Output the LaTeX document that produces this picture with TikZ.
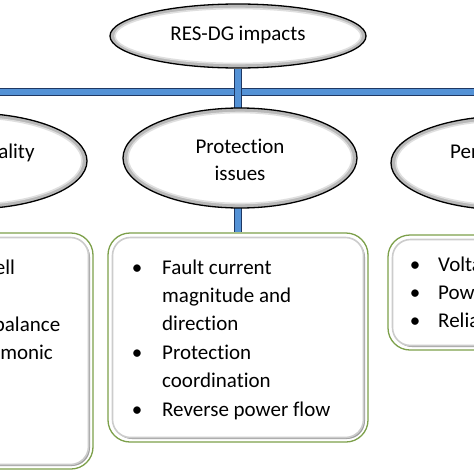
\documentclass[tikz,border=0pt]{standalone}
\usepackage{fontspec}
\setmainfont{Carlito}[Ligatures=CommonOff]
\usetikzlibrary{shapes.geometric}
\definecolor{busfill}{RGB}{84,146,214}
\definecolor{busline}{RGB}{31,56,99}
\definecolor{boxgreen}{RGB}{125,160,75}
\begin{document}
\begin{tikzpicture}[x=1pt,y=-1pt,
  ellO/.style={ellipse, draw=black, line width=1.3pt, fill=gray!55, inner sep=0pt},
  ellI/.style={ellipse, fill=white, draw=gray!25, line width=1.6pt, inner sep=0pt},
  lbl/.style={font=\fontsize{21}{28}\selectfont, inner sep=0pt, anchor=base},
  lblw/.style={lbl, anchor=base west},
  boxO/.style={rectangle, rounded corners=22pt, draw=boxgreen, line width=1.3pt, fill=white, inner sep=0pt},
  boxS/.style={rectangle, rounded corners=18pt, fill=gray!75, inner sep=0pt},
  boxI/.style={rectangle, rounded corners=18pt, draw=gray!40, line width=1.6pt, fill=white, inner sep=0pt},
  bus/.style={draw=busline, line width=1.2pt, double=busfill, double distance=5.5pt}
]
\useasboundingbox (0,0) rectangle (474,474);
\clip (0,0) rectangle (474,474);
\fill[white] (0,0) rectangle (474,474);

% boxes
\node[boxO, minimum width=260pt, minimum height=209pt] (midbox) at (238,337.5) {};
\node[boxS, minimum width=251pt, minimum height=200pt] (midS) at (239.5,339) {};
\node[boxI, minimum width=251pt, minimum height=200pt] (midI) at (238,337.5) {};

\node[boxO, minimum width=260pt, minimum height=236pt] (leftbox) at (-37,351) {};
\node[boxS, minimum width=251pt, minimum height=227pt] (leftS) at (-35.5,352.5) {};
\node[boxI, minimum width=251pt, minimum height=227pt] (leftI) at (-37,351) {};

\node[boxO, minimum width=260pt, minimum height=115pt] (rightbox) at (518,292.5) {};
\node[boxS, minimum width=251pt, minimum height=106pt] (rightS) at (519.5,294) {};
\node[boxI, minimum width=251pt, minimum height=106pt] (rightI) at (518,292.5) {};

% top ellipse
\node[ellO, minimum width=256pt, minimum height=64pt] (top) at (238,36) {};
\node[ellI, minimum width=246pt, minimum height=55pt] (topI) at (238,36) {};

% connectors
\coordinate (hl) at (-5,92);
\coordinate (hr) at (480,92);
\draw[bus] (hl) -- (hr);
\draw[bus] (top.south) -- (midbox.north);

% second level ellipses
\node[ellO, minimum width=234pt, minimum height=100pt] (prot) at (240,158) {};
\node[ellI, minimum width=224pt, minimum height=91pt] (protI) at (240,158) {};
\node[ellO, minimum width=234pt, minimum height=96pt] (pq) at (-30,161) {};
\node[ellI, minimum width=224pt, minimum height=87pt] (pqI) at (-30,161) {};
\node[ellO, minimum width=234pt, minimum height=94pt] (perf) at (508,163) {};
\node[ellI, minimum width=224pt, minimum height=85pt] (perfI) at (508,163) {};

% labels
\node[lbl] (tTop) at (238,40.5) {RES-DG impacts};
\node[lbl] (tProt1) at (240,153) {Protection};
\node[lbl] (tProt2) at (240,180) {issues};
\node[lbl] (tPQ) at (-24,158) {Power quality};
\node[lblw] (tPerf) at (450,158) {Performance};

% middle box list
\node[lbl] (mb1) at (137,274) {•};
\node[lblw] (mt1) at (162,274) {Fault current};
\node[lblw] (mt2) at (162,302.4) {magnitude and};
\node[lblw] (mt3) at (162,330.8) {direction};
\node[lbl] (mb2) at (137,359.2) {•};
\node[lblw] (mt4) at (162,359.2) {Protection};
\node[lblw] (mt5) at (162,387.6) {coordination};
\node[lbl] (mb3) at (137,416) {•};
\node[lblw] (mt6) at (162,416) {Reverse power flow};

% left box list
\node[lbl] (lb1) at (-122,274) {•};
\node[lblw] (lt1) at (-97,274) {Voltage swell};
\node[lbl] (lb2) at (-122,302.5) {•};
\node[lblw] (lt2) at (-97,302.5) {Flicker};
\node[lbl] (lb3) at (-122,331) {•};
\node[lblw] (lt3) at (-97,331) {Voltage unbalance};
\node[lbl] (lb4) at (-122,359.5) {•};
\node[lblw] (lt4) at (-97,359.5) {Voltage harmonic};

% right box list
\node[lbl] (rb1) at (415,271) {•};
\node[lblw] (rt1) at (438,271) {Voltage regulation};
\node[lbl] (rb2) at (415,299) {•};
\node[lblw] (rt2) at (438,299) {Power losses};
\node[lbl] (rb3) at (415,327) {•};
\node[lblw] (rt3) at (438,327) {Reliability};
\end{tikzpicture}
\end{document}
